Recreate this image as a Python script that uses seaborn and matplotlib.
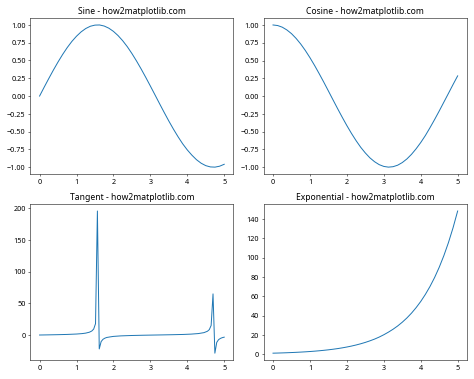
import matplotlib
matplotlib.use("Agg")
import matplotlib.pyplot as plt
import seaborn as sns

plt.rcParams['font.family'] = ['Noto Sans', 'DejaVu Sans']
plt.rcParams['xtick.labelsize'] = 11
plt.rcParams['ytick.labelsize'] = 11

# values
x_grid = [0.0, 0.125, 0.25, 0.375, 0.5, 0.625, 0.75, 0.875, 1.0, 1.125, 1.25, 1.375,
          1.5, 1.625, 1.75, 1.875, 2.0, 2.125, 2.25, 2.375, 2.5, 2.625, 2.75, 2.875,
          3.0, 3.125, 3.25, 3.375, 3.5, 3.625, 3.75, 3.875, 4.0, 4.125, 4.25, 4.375,
          4.5, 4.625, 4.75, 4.875, 5.0]
sine_y = [0.0, 0.125, 0.247, 0.366, 0.479, 0.585, 0.682, 0.768, 0.841, 0.902, 0.949, 0.981,
          0.997, 0.999, 0.984, 0.954, 0.909, 0.850, 0.778, 0.694, 0.598, 0.493, 0.381, 0.263,
          0.141, 0.017, -0.108, -0.231, -0.351, -0.465, -0.572, -0.671, -0.757, -0.831, -0.895,
          -0.944, -0.978, -0.996, -0.999, -0.986, -0.959]
cosine_y = [1.0, 0.992, 0.969, 0.930, 0.878, 0.811, 0.732, 0.641, 0.540, 0.431, 0.315, 0.195,
            0.071, -0.054, -0.178, -0.299, -0.416, -0.526, -0.628, -0.721, -0.801, -0.870,
            -0.924, -0.965, -0.990, -1.0, -0.994, -0.973, -0.936, -0.885, -0.820, -0.742,
            -0.654, -0.556, -0.446, -0.331, -0.211, -0.087, 0.037, 0.162, 0.284]
exp_y = [1.0, 1.13, 1.28, 1.45, 1.65, 1.87, 2.12, 2.40, 2.72, 3.08, 3.49, 3.96,
         4.48, 5.08, 5.75, 6.52, 7.39, 8.37, 9.49, 10.75, 12.18, 13.8, 15.6, 17.7,
         20.1, 22.8, 25.8, 29.2, 33.1, 37.5, 42.5, 48.2, 54.6, 61.9, 70.1, 79.4,
         90.0, 102.0, 115.6, 131.0, 148.4]

tan_x = [0.0, 0.25, 0.5, 0.75, 1.0, 1.15, 1.25, 1.35, 1.414, 1.465, 1.515, 1.566,
         1.616, 1.667, 1.717, 1.768, 1.818, 1.9, 2.0, 2.2, 2.5, 2.8, 3.0, 3.3, 3.6,
         3.9, 4.1, 4.3, 4.45, 4.545, 4.596, 4.646, 4.697, 4.747, 4.798, 4.848, 4.899,
         4.949, 5.0]
tan_y = [0.0, 0.255, 0.546, 0.932, 1.557, 2.23, 3.01, 4.46, 6.33, 9.36, 17.9, 196.0,
         -22.0, -10.4, -6.8, -5.0, -3.9, -3.07, -2.19, -1.37, -0.747, -0.356, -0.143, 0.159, 0.493,
         0.916, 1.42, 2.29, 3.74, 5.92, 8.52, 15.1, 65.0, -28.7, -11.6, -7.3, -5.3,
         -4.15, -3.38]

panels = [
    (x_grid, sine_y, 'Sine - how2matplotlib.com'),
    (x_grid, cosine_y, 'Cosine - how2matplotlib.com'),
    (tan_x, tan_y, 'Tangent - how2matplotlib.com'),
    (x_grid, exp_y, 'Exponential - how2matplotlib.com'),
]

fig, axes = plt.subplots(2, 2, figsize=(10, 8), dpi=47.4)
for ax, (xs, ys, title) in zip(axes.flat, panels):
    sns.lineplot(x=xs, y=ys, ax=ax, color='#1f77b4', linewidth=1.5)
    ax.set_title(title, fontsize=13)

plt.tight_layout()
plt.savefig('out.png', dpi=47.4)
